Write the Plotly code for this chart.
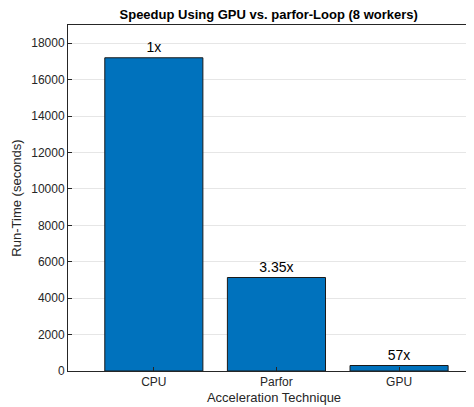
import plotly.graph_objects as go

categories = ["CPU", "Parfor", "GPU"]
runtimes = [17200, 5134, 302]
labels = ["1x", "3.35x", "57x"]

fig = go.Figure(go.Bar(
    x=[1, 2, 3], y=runtimes, width=0.8,
    marker=dict(color="#0072BD", line=dict(color="#1a1a1a", width=1)),
    text=labels, textposition="outside", textfont=dict(size=14, color="black"),
    cliponaxis=False,
))
ax = dict(showline=True, linecolor="#262626", mirror=True, ticks="inside", ticklen=4,
          tickcolor="#262626", tickfont=dict(size=12, color="#262626"))
fig.update_xaxes(range=[0.3, 3.66], tickvals=[1, 2, 3], ticktext=categories, showgrid=False,
                 title=dict(text="Acceleration Technique", font=dict(size=13, color="#262626"), standoff=4), **ax)
fig.update_yaxes(range=[0, 19000], dtick=2000, tickformat="d", showgrid=True, gridcolor="#e6e6e6", zeroline=False,
                 title=dict(text="Run-Time (seconds)", font=dict(size=13, color="#262626"), standoff=6), **ax)
fig.update_layout(
    width=474, height=407, margin=dict(l=60, r=2, t=17, b=44),
    plot_bgcolor="white", paper_bgcolor="white",
    font=dict(family="Liberation Sans, Arial", color="#262626"),
    title=dict(text="<b>Speedup Using GPU vs. parfor-Loop (8 workers)</b>", x=0.55, xanchor="center",
               y=0.995, yanchor="top", font=dict(size=13, color="black")),
    showlegend=False,
)
fig.write_html("out.html")
